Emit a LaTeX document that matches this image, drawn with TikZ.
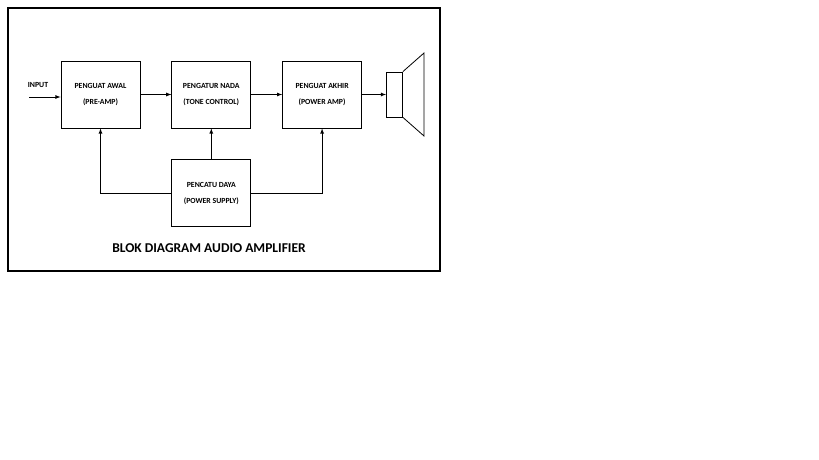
\documentclass[tikz,border=0pt]{standalone}
\usepackage{fontspec}
\setmainfont{Carlito}
\usetikzlibrary{positioning,calc}

\begin{document}
\begin{tikzpicture}[x=1pt,y=-1pt,
	blok/.style={draw,thick,minimum width=79pt,minimum height=67pt,align=center,
		font=\fontsize{7.8}{16}\selectfont\bfseries},
	line/.style={thick},
	arr/.style={thick,-latex}]
	\useasboundingbox (0,0) rectangle (819,460);
	\draw[very thick] (8,8) rectangle (440,271);
	% blok utama
	\node[blok] (pre) at (100.5,94.5) {PENGUAT AWAL\\(PRE-AMP)};
	\node[blok, right=31pt of pre] (tone) {PENGATUR NADA\\(TONE CONTROL)};
	\node[blok, right=31pt of tone] (power) {PENGUAT AKHIR\\(POWER AMP)};
	\node[blok, below=31pt of tone] (psu) {PENCATU DAYA\\(POWER SUPPLY)};
	% input
	\node[font=\fontsize{7.8}{8}\selectfont\bfseries] (input) at (38,85) {INPUT};
	\coordinate (in) at (29,97);
	\draw[arr] (in) -- (in -| pre.west);
	% sinyal
	\draw[arr] (pre) -- (tone);
	\draw[arr] (tone) -- (power);
	% speaker
	\node[draw,thick,minimum width=16pt,minimum height=45pt,inner sep=0pt] (spk) at (394.5,94.5) {};
	\draw[arr] (power) -- (spk);
	\draw[line] (spk.north east) -- (424,53) -- (424,136) -- (spk.south east);
	% catu daya
	\draw[arr] (psu.west) -| (pre.south);
	\draw[arr] (psu.east) -| (power.south);
	\draw[arr] (psu) -- (tone);
	\node[font=\fontsize{13.5}{16}\selectfont\bfseries] (judul) at (209,248) {BLOK DIAGRAM AUDIO AMPLIFIER};
\end{tikzpicture}
\end{document}
